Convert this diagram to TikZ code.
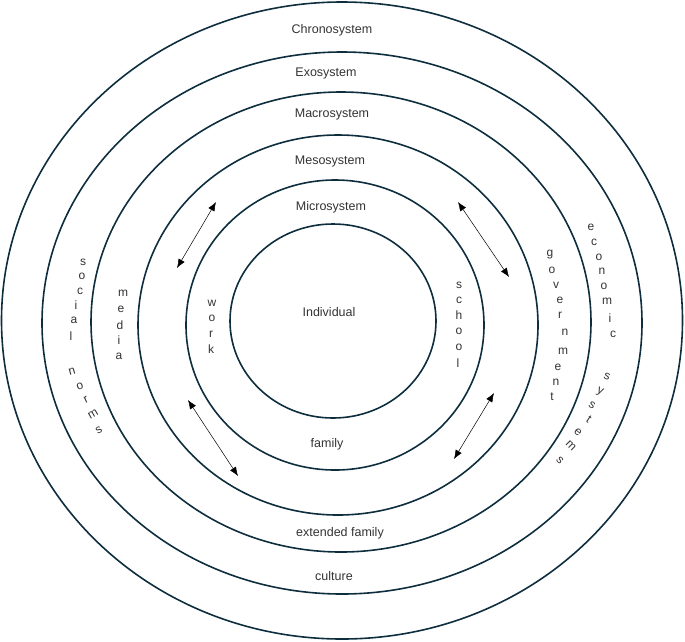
\documentclass[tikz,border=0pt]{standalone}
\usepackage{fontspec}
\setmainfont{Liberation Sans}
\usetikzlibrary{arrows.meta}
\definecolor{ring}{HTML}{0E2E3E}
\begin{document}
\begin{tikzpicture}[x=1pt,y=-1pt,
  ringline/.style={draw=ring,line width=1.6pt},
  lbl/.style={font=\fontsize{12.5}{14}\selectfont,text=black!80,inner sep=0pt},
  ch/.style={font=\fontsize{12}{14}\selectfont,text=black!80,inner sep=0pt},
  link/.style={{Latex[length=9pt,width=7pt]}-{Latex[length=9pt,width=7pt]},line width=0.5pt}]
\useasboundingbox (0,0) rectangle (685,641);
\draw[ringline] (342,320.5) ellipse [x radius=340.5,y radius=318.5];
\draw[ringline] (342,323) ellipse [x radius=300,y radius=271];
\draw[ringline] (341,322) ellipse [x radius=250,y radius=230];
\draw[ringline] (338,325) ellipse [x radius=200,y radius=190];
\draw[ringline] (335,325) ellipse [x radius=149,y radius=145];
\draw[ringline] (333,321) ellipse [x radius=103,y radius=97];
\node[lbl] (chrono) at (332,30) {Chronosystem};
\node[lbl] (exo) at (326,73) {Exosystem};
\node[lbl] (macro) at (332,114) {Macrosystem};
\node[lbl] (meso) at (330,161) {Mesosystem};
\node[lbl] (micro) at (331,207) {Microsystem};
\node[lbl] (indiv) at (329,312) {Individual};
\node[lbl] (fam) at (327,444) {family};
\node[lbl] (extfam) at (340,533) {extended family};
\node[lbl] (cult) at (334,576) {culture};
\coordinate (a1) at (216,202); \coordinate (a2) at (177,268);
\coordinate (b1) at (458,202); \coordinate (b2) at (509,277);
\coordinate (c1) at (188,400); \coordinate (c2) at (238,476);
\coordinate (d1) at (494,393); \coordinate (d2) at (454,459);
\draw[link] (a1) -- (a2);
\draw[link] (b1) -- (b2);
\draw[link] (c1) -- (c2);
\draw[link] (d1) -- (d2);
% vertical letters
\foreach \c/\x/\y/\r in {s/83/262/0,o/82/276/0,c/80/291/0,i/76/305/0,a/74/320/0,l/71/336/0,
  n/72/372/15,o/80/386/20,r/86/400/25,m/93/414/30,s/99/430/30,
  m/123/293/0,e/121/309/0,d/120/325/0,i/119/340/0,a/119/356/0,
  w/212/303/0,o/212/318/0,r/211/334/0,k/211/349/0,
  s/459/285/0,c/459/300/0,h/459/315/0,o/459/331/0,o/459/347/0,l/458/363/0,
  g/550/255/0,o/552/270/0,v/556/285/0,e/560/300/0,r/560/315/0,n/565/332/0,m/563/351/0,e/558/367/0,n/556/382/0,t/552/397/0,
  e/591/227/0,c/594/242/0,o/599/257/0,n/602/271/0,o/604/286/0,m/607/301/0,i/610/318/0,c/613/334/0,
  s/607/377/-20,y/600/392/-25,s/592/405/-30,t/589/419/-35,e/578/432/-40,m/571/446/-45,s/560/460/-45}
  \node[ch,rotate=\r] at (\x,\y) {\c};
\end{tikzpicture}
\end{document}
